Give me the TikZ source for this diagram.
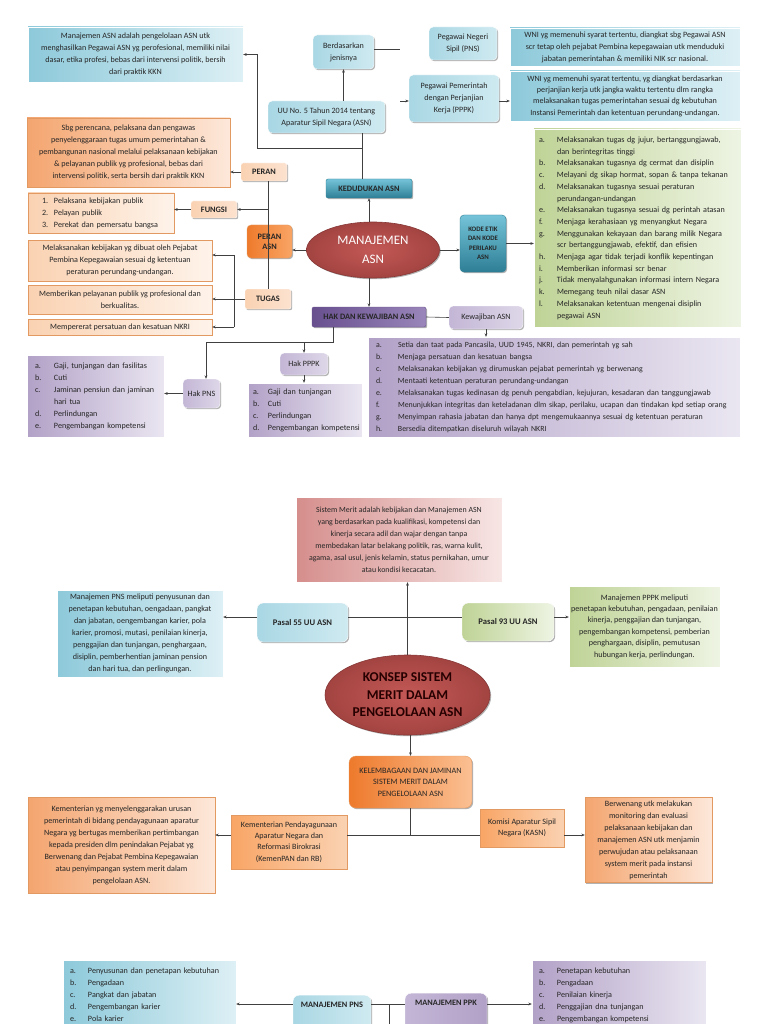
\documentclass[tikz,border=0pt]{standalone}
\usepackage{fontspec}
\setmainfont{Carlito}
\usetikzlibrary{arrows.meta,shadows,shapes.geometric,calc}
\definecolor{lnc}{HTML}{404040}
\definecolor{txtc}{HTML}{262626}
\definecolor{bluL}{HTML}{8DC9DA}
\definecolor{bluR}{HTML}{DDF0F5}
\definecolor{bluS}{HTML}{A9D7E4}
\definecolor{bluS2}{HTML}{CFEAF1}
\definecolor{tealL}{HTML}{2E7F96}
\definecolor{tealR}{HTML}{74C3D8}
\definecolor{orL}{HTML}{F4A56F}
\definecolor{orR}{HTML}{FDE8DA}
\definecolor{peL}{HTML}{FAD2B2}
\definecolor{peR}{HTML}{FEF3EA}
\definecolor{peL2}{HTML}{FCE2CF}
\definecolor{orD}{HTML}{E39A62}
\definecolor{orM}{HTML}{EE7A2C}
\definecolor{orM2}{HTML}{F9A565}
\definecolor{redE}{HTML}{C0504D}
\definecolor{grL}{HTML}{BFD396}
\definecolor{grR}{HTML}{EEF4E3}
\definecolor{puD}{HTML}{68508F}
\definecolor{puDR}{HTML}{9A86BA}
\definecolor{puL}{HTML}{B2A1C7}
\definecolor{puR}{HTML}{EAE6F1}
\definecolor{puS}{HTML}{C3B6D6}
\definecolor{puS2}{HTML}{DED7E8}
\definecolor{rdL}{HTML}{D58E8C}
\definecolor{rdR}{HTML}{F7E6E5}
\newcommand{\fs}{\fontsize{8.1}{12}\selectfont}
\newcommand{\fsm}{\fontsize{7.9}{12}\selectfont}
\newcommand{\fsn}{\fontsize{8.1}{11.4}\selectfont}
\newcommand{\fsl}{\fontsize{8.1}{11.7}\selectfont}
\newcommand{\fsb}{\fontsize{8.3}{10}\selectfont\bfseries}
\newcommand{\fsk}{\fontsize{6.8}{9.5}\selectfont\bfseries}
\newcommand{\lst}[2]{\begin{tabular}{@{}p{#1}@{}l@{}}#2\end{tabular}}
\begin{document}
\begin{tikzpicture}[x=1pt,y=-1pt,
  shd/.style={drop shadow={shadow xshift=1.2pt,shadow yshift=-1.2pt,opacity=0.3,fill=black}},
  bx/.style={shd,inner sep=2pt,align=center,font=\fs,text=txtc,line width=0.4pt},
  rnd/.style={rounded corners=#1},
  rnd/.default=4pt,
  arr/.style={draw=lnc,line width=0.6pt,-{Stealth[length=3.4pt,width=2.8pt]}},
  cn/.style={draw=lnc,line width=0.6pt},
  sBlueBig/.style={left color=bluL,right color=bluR,draw=white},
  sBlueS/.style={left color=bluS,right color=bluS2,draw=white},
  sTeal/.style={top color=tealR,bottom color=tealL,draw=tealL},
  sOrBig/.style={left color=orL,right color=orR,draw=orD},
  sPeach/.style={left color=peL,right color=peR,draw=orD},
  sOrM/.style={left color=orM,right color=orM2,draw=orD},
  sOrS/.style={left color=peL,right color=peL2,draw=white},
  sGreen/.style={left color=grL,right color=grR,draw=white},
  sPurD/.style={left color=puD,right color=puDR,draw=puD},
  sPurS/.style={left color=puS,right color=puS2,draw=white},
  sPurL/.style={left color=puL,right color=puR,draw=white},
  sRed/.style={left color=rdL,right color=rdR,draw=white},
  sEll/.style={ellipse,shd,inner sep=0pt,inner color=redE!95!white,outer color=redE!85!black,draw=redE!70!black,line width=0.6pt,align=center}
]
\useasboundingbox (0,0) rectangle (768,1024);
\fill[white] (0,0) rectangle (768,1024);
\clip (0,0) rectangle (768,1024);

% ---------------- Section 1 ----------------
\node[bx,sBlueBig,minimum width=215pt,minimum height=55pt] (topdesc) at (135.5,54.5) {Manajemen ASN adalah pengelolaan ASN utk\\menghasilkan Pegawai ASN yg perofesional, memiliki nilai\\dasar, etika profesi, bebas dari intervensi politik, bersih\\dari praktik KKN};
\node[bx,sBlueS,rnd,minimum width=61pt,minimum height=34pt] (berd) at (343.5,52) {Berdasarkan\\jenisnya};
\node[bx,sBlueS,rnd,minimum width=117pt,minimum height=32pt] (uu) at (326.5,117) {UU No. 5 Tahun 2014 tentang\\Aparatur Sipil Negara (ASN)};
\node[bx,sBlueS,rnd,minimum width=68pt,minimum height=33pt] (pns) at (463,43.5) {Pegawai Negeri\\Sipil (PNS)};
\node[bx,sBlueS,rnd,minimum width=90pt,minimum height=47pt] (pppk) at (454,98.5) {Pegawai Pemerintah\\dengan Perjanjian\\Kerja (PPPK)};
\node[bx,sBlueBig,minimum width=230pt,minimum height=38pt,inner ysep=1pt] (d1) at (625,47) {WNI yg memenuhi syarat tertentu, diangkat sbg Pegawai ASN\\scr tetap oleh pejabat Pembina kepegawaian utk menduduki\\jabatan pemerintahan \& memiliki NIK scr nasional.};
\node[bx,sBlueBig,minimum width=230pt,minimum height=50pt,inner ysep=0.5pt,font=\fsn] (d2) at (625,96) {WNI yg memenuhi syarat tertentu, yg diangkat berdasarkan\\perjanjian kerja utk jangka waktu tertentu dlm rangka\\melaksanakan tugas pemerintahan sesuai dg kebutuhan\\Instansi Pemerintah dan ketentuan perundang-undangan.};

\node[bx,sTeal,rnd=2pt,minimum width=86pt,minimum height=19pt,font=\fsb] (ked) at (369,188.5) {KEDUDUKAN ASN};
\node[sEll,minimum width=133pt,minimum height=56pt,text=white,font=\fontsize{13}{19}\selectfont] (ell1) at (373,250) {MANAJEMEN\\ASN};

\node[bx,sOrM,rnd,minimum width=45pt,minimum height=33pt,font=\fsb] (peranasn) at (269.5,241.5) {PERAN\\ASN};
\node[bx,sOrS,rnd=2pt,minimum width=46pt,minimum height=18pt,font=\fsb] (peran) at (264,172) {PERAN};
\node[bx,sOrS,rnd=2pt,minimum width=46pt,minimum height=17pt,font=\fsb] (fungsi) at (214,209.5) {FUNGSI};
\node[bx,sOrS,rnd=2pt,minimum width=46pt,minimum height=20pt,font=\fsb] (tugas) at (268,299) {TUGAS};
\node[bx,sOrBig,minimum width=203pt,minimum height=69pt] (perandesc) at (128.5,152.5) {Sbg perencana, pelaksana dan pengawas\\penyelenggaraan tugas umum pemerintahan \&\\pembangunan nasional melalui pelaksanaan kebijakan\\\& pelayanan publik yg profesional, bebas dari\\intervensi politik, serta bersih dari praktik KKN};
\node[bx,sPeach,minimum width=146pt,minimum height=40pt,inner xsep=14pt,text width=118pt,align=left] (fungsilist) at (101,213) {\lst{12pt}{1. & Pelaksana kebijakan publik\\2. & Pelayan publik\\3. & Perekat dan pemersatu bangsa}};
\node[bx,sPeach,minimum width=184pt,minimum height=41pt] (t1) at (120,260.5) {Melaksanakan kebijakan yg dibuat oleh Pejabat\\Pembina Kepegawaian sesuai dg ketentuan\\peraturan perundang-undangan.};
\node[bx,sPeach,minimum width=184pt,minimum height=29pt] (t2) at (120,299.5) {Memberikan pelayanan publik yg profesional dan\\berkualitas.};
\node[bx,sPeach,minimum width=184pt,minimum height=16pt,inner ysep=1pt] (t3) at (120,327) {Mempererat persatuan dan kesatuan NKRI};

\node[bx,sTeal,rnd,minimum width=46pt,minimum height=57pt,font=\fsk] (kode) at (483,243.5) {KODE ETIK\\DAN KODE\\PERILAKU\\ASN};
\node[bx,sGreen,minimum width=207pt,minimum height=198pt,inner xsep=5pt,text width=197pt,align=left,font=\fsl] (etik) at (637.5,228) {\lst{18pt}{a. & Melaksanakan tugas dg jujur, bertanggungjawab,\\
 & dan berintegritas tinggi\\
b. & Melaksanakan tugasnya dg cermat dan disiplin\\
c. & Melayani dg sikap hormat, sopan \& tanpa tekanan\\
d. & Melaksanakan tugasnya sesuai peraturan\\
 & perundangan-undangan\\
e. & Melaksanakan tugasnya sesuai dg perintah atasan\\
f. & Menjaga kerahasiaan yg menyangkut Negara\\
g. & Menggunakan kekayaan dan barang milik Negara\\
 & scr bertanggungjawab, efektif, dan efisien\\
h. & Menjaga agar tidak terjadi konflik kepentingan\\
i. & Memberikan informasi scr benar\\
j. & Tidak menyalahgunakan informasi intern Negara\\
k. & Memegang teuh nilai dasar ASN\\
l. & Melaksanakan ketentuan mengenai disiplin\\
 & pegawai ASN}};

\node[bx,sPurD,rnd=2pt,minimum width=114pt,minimum height=20pt,font=\fsb] (hak) at (369,317) {HAK DAN KEWAJIBAN ASN};
\node[bx,sPurS,rnd,minimum width=74pt,minimum height=23pt] (kew) at (486,317.5) {Kewajiban ASN};
\node[bx,sPurL,minimum width=372pt,minimum height=100pt,inner xsep=8pt,text width=356pt,align=left,font=\fsm] (kewlist) at (554,387) {\lst{22pt}{a. & Setia dan taat pada Pancasila, UUD 1945, NKRI, dan pemerintah yg sah\\
b. & Menjaga persatuan dan kesatuan bangsa\\
c. & Melaksanakan kebijakan yg dirumuskan pejabat pemerintah yg berwenang\\
d. & Mentaati ketentuan peraturan perundang-undangan\\
e. & Melaksanakan tugas kedinasan dg penuh pengabdian, kejujuran, kesadaran dan tanggungjawab\\
f. & Menunjukkan integritas dan keteladanan dlm sikap, perilaku, ucapan dan tindakan kpd setiap orang\\
g. & Menyimpan rahasia jabatan dan hanya dpt mengemukaannya sesuai dg ketentuan peraturan\\
h. & Bersedia ditempatkan diseluruh wilayah NKRI}};
\node[bx,sPurS,rnd,minimum width=48pt,minimum height=22pt] (hakpppk) at (304,364) {Hak PPPK};
\node[bx,sPurL,minimum width=114pt,minimum height=54pt,inner xsep=5pt,text width=104pt,align=left] (pppklist) at (305,410) {\lst{15pt}{a. & Gaji dan tunjangan\\b. & Cuti\\c. & Perlindungan\\d. & Pengembangan kompetensi}};
\node[bx,sPurS,rnd,minimum width=37pt,minimum height=29pt] (hakpns) at (201.5,393.5) {Hak PNS};
\node[bx,sPurL,minimum width=137pt,minimum height=82pt,inner xsep=8pt,text width=121pt,align=left] (pnslist) at (95.5,396) {\lst{19pt}{a. & Gaji, tunjangan dan fasilitas\\b. & Cuti\\c. & Jaminan pensiun dan jaminan\\ & hari tua\\d. & Perlindungan\\e. & Pengembangan kompetensi}};

% connectors section 1
\coordinate (j1) at (362,148);
\coordinate (c1) at (257,148);
\coordinate (c2) at (400,49);
\coordinate (c3) at (400,101);
\draw[arr] (ell1.north -| ked.south) -- (ked.south);
\draw[cn] (uu.south -| j1) -- (ked.north -| j1);
\draw[arr] (j1) -- (c1) |- (topdesc.east);
\draw[arr] (berd.south |- uu.north) -- (berd.south);
\draw[cn] (berd.east |- c2) -- (c2);
\draw[arr] (c3) -- (c3 -| pppk.west);
\draw[arr] (pppk.east |- c3) -- (c3 -| d2.west);
\draw[arr] (ell1.west) -- (ell1.west -| peranasn.east);
\draw[cn] (peran.south -| tugas.north) -- (tugas.north);
\draw[arr] (tugas.north |- fungsi.east) -- (fungsi.east);
\draw[arr] (peran.west) -- (peran.west -| perandesc.east);
\draw[arr] (fungsi.west) -- (fungsi.west -| fungsilist.east);
\coordinate (ta) at (234,255);
\coordinate (tb) at (234,327);
\draw[cn] (ta) -- (tb);
\draw[arr] (ta) -- (ta -| t1.east);
\draw[arr] (tb) -- (tb -| t3.east);
\draw[arr] (tugas.west) -- (tugas.west -| t2.east);
\draw[arr] (ell1.east) -- (ell1.east -| kode.west);
\draw[arr] (kode.east) -- (kode.east -| etik.west);
\draw[arr] (hak.north |- ell1.south) -- (hak.north);
\draw[cn] (hak.east) -- (kew.west);
\draw[arr] (kew.south) -- (kew.south |- kewlist.north);
\coordinate (hj) at (333,342);
\coordinate (hL) at (206,342);
\draw[cn] (hak.south -| hj) -- (hj) -- (hL);
\draw[arr] (hL) -- (hL |- hakpns.north);
\draw[arr] (hakpppk.north |- hj) -- (hakpppk.north);
\draw[arr] (hakpppk.south) -- (hakpppk.south |- pppklist.north);
\draw[arr] (hakpns.west) -- (hakpns.west -| pnslist.east);

% ---------------- Section 2 ----------------
\node[bx,sRed,minimum width=206pt,minimum height=85pt,font=\fsm] (merit) at (399,539.5) {Sistem Merit adalah kebijakan dan Manajemen ASN\\yang berdasarkan pada kualifikasi, kompetensi dan\\kinerja secara adil dan wajar dengan tanpa\\membedakan latar belakang politik, ras, warna kulit,\\agama, asal usul, jenis kelamin, status pernikahan, umur\\atau kondisi kecacatan.};
\node[sEll,minimum width=165pt,minimum height=80pt,inner xsep=-30pt,inner ysep=-14pt,text=black!85!red,font=\fontsize{13.5}{17.5}\selectfont\bfseries] (ell2) at (407.5,695) {KONSEP SISTEM\\MERIT DALAM\\PENGELOLAAN ASN};
\node[bx,sBlueS,rnd=6pt,minimum width=91pt,minimum height=39pt,font=\fontsize{8.6}{10}\selectfont\bfseries] (p55) at (302.5,622.5) {Pasal 55 UU ASN};
\node[bx,sBlueBig,minimum width=166pt,minimum height=87pt,inner ysep=0.5pt] (p55desc) at (140,633.5) {Manajemen PNS meliputi penyusunan dan\\penetapan kebutuhan, oengadaan, pangkat\\dan jabatan, oengembangan karier, pola\\karier, promosi, mutasi, penilaian kinerja,\\penggajian dan tunjangan, penghargaan,\\disiplin, pemberhentian jaminan pension\\dan hari tua, dan perlingungan.};
\node[bx,sGreen,rnd=6pt,minimum width=92pt,minimum height=38pt,font=\fontsize{8.6}{10}\selectfont\bfseries] (p93) at (508,622) {Pasal 93 UU ASN};
\node[bx,sGreen,minimum width=151pt,minimum height=81pt,font=\fsn] (p93desc) at (644.5,626.5) {Manajemen PPPK meliputi\\penetapan kebutuhan, pengadaan, penilaian\\kinerja, penggajian dan tunjangan,\\pengembangan kompetensi, pemberian\\penghargaan, disiplin, pemutusan\\hubungan kerja, perlindungan.};
\node[bx,left color=orM,right color=orM2!70!white,draw=orD,rnd=7pt,minimum width=123pt,minimum height=52pt,font=\fontsize{8.2}{11.5}\selectfont] (kel) at (410.5,782) {KELEMBAGAAN DAN JAMINAN\\SISTEM MERIT DALAM\\PENGELOLAAN ASN};
\node[bx,left color=orM2,right color=peL,draw=orD,minimum width=116pt,minimum height=54pt,font=\fsn] (kemen) at (289,842) {Kementerian Pendayagunaan\\Aparatur Negara dan\\Reformasi Birokrasi\\(KemenPAN dan RB)};
\node[bx,sOrBig,minimum width=187pt,minimum height=96pt] (kemendesc) at (121.5,845) {Kementerian yg menyelenggarakan urusan\\pemerintah di bidang pendayagunaan aparatur\\Negara yg bertugas memberikan pertimbangan\\kepada presiden dlm penindakan Pejabat yg\\Berwenang dan Pejabat Pembina Kepegawaian\\atau penyimpangan system merit dalam\\pengelolaan ASN.};
\node[bx,left color=orM2,right color=peL,draw=orD,minimum width=84pt,minimum height=38pt,font=\fsn] (kasn) at (522,828) {Komisi Aparatur Sipil\\Negara (KASN)};
\node[bx,sOrBig,minimum width=127pt,minimum height=85pt,inner ysep=0pt] (kasndesc) at (648.5,840) {Berwenang utk melakukan\\monitoring dan evaluasi\\pelaksanaan kebijakan dan\\manajemen ASN utk menjamin\\perwujudan atau pelaksanaan\\system merit pada instansi\\pemerintah};

% connectors section 2
\draw[arr] (ell2.north) -- (ell2.north |- merit.south);
\coordinate (m1) at (407,617);
\draw[cn] (p55.east |- m1) -- (p93.west |- m1);
\draw[arr] (p55.west |- m1) -- (p55desc.east |- m1);
\draw[arr] (p93.east |- m1) -- (p93desc.west |- m1);
\draw[arr] (ell2.south -| kel.north) -- (kel.north);
\coordinate (k1) at (410,835);
\draw[cn] (kel.south -| k1) -- (k1);
\draw[cn] (kemen.east |- k1) -- (kasn.west |- k1);
\draw[arr] (kemen.west |- k1) -- (kemendesc.east |- k1);
\draw[arr] (kasn.east |- k1) -- (kasndesc.west |- k1);

% ---------------- Section 3 ----------------
\node[bx,sBlueBig,anchor=north,minimum width=173pt,minimum height=70pt,inner xsep=7pt,text width=159pt,align=left] (mpnslist) at (149.5,960) {\lst{18pt}{a. & Penyusunan dan penetapan kebutuhan\\b. & Pengadaan\\c. & Pangkat dan jabatan\\d. & Pengembangan karier\\e. & Pola karier}};
\node[bx,sPurL,anchor=north,minimum width=174pt,minimum height=70pt,inner xsep=7pt,text width=160pt,align=left] (mppklist) at (619,960) {\lst{18pt}{a. & Penetapan kebutuhan\\b. & Pengadaan\\c. & Penilaian kinerja\\d. & Penggajian dna tunjangan\\e. & Pengembangan kompetensi}};
\node[bx,sBlueS,rnd=6pt,anchor=north,minimum width=78pt,text height=6pt,text depth=26pt,inner ysep=6pt,font=\fsb] (mpns) at (332,995) {MANAJEMEN PNS};
\node[bx,left color=puS,right color=puL,draw=white,rnd=6pt,anchor=north,minimum width=82pt,text height=6pt,text depth=26pt,inner ysep=6pt,font=\fsb] (mppk) at (446,993) {MANAJEMEN PPK};
\coordinate (m3) at (389,1004);
\coordinate (m4) at (389,1030);
\draw[cn] (mpns.east |- m3) -- (mppk.west |- m3);
\draw[cn] (m3) -- (m4);
\draw[arr] (mpns.west |- m3) -- (mpnslist.east |- m3);
\draw[arr] (mppk.east |- m3) -- (mppklist.west |- m3);
\end{tikzpicture}
\end{document}
